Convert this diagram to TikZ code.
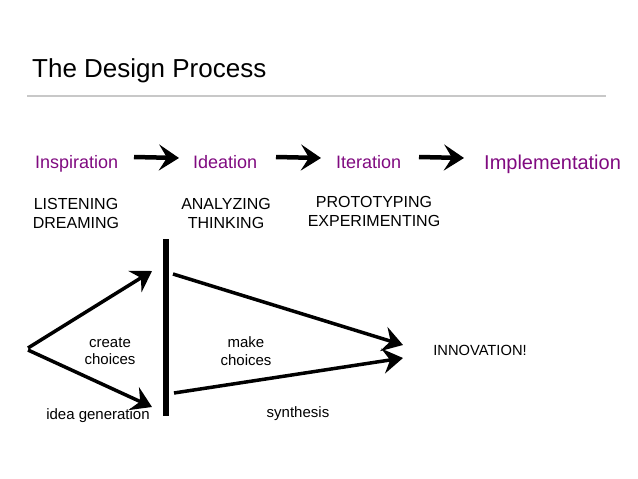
\documentclass[tikz,border=0pt]{standalone}
\usepackage{fontspec}
\setmainfont{Liberation Sans}
\usetikzlibrary{arrows.meta}
\definecolor{stagepurple}{RGB}{128,10,128}
\definecolor{rulegray}{RGB}{200,200,200}
\tikzset{
  stage/.style={text=stagepurple, font=\fontsize{18}{21}\selectfont, inner sep=0pt},
  bigstage/.style={text=stagepurple, font=\fontsize{20}{23}\selectfont, inner sep=0pt},
  caps/.style={font=\fontsize{16}{19}\selectfont, align=center, inner sep=0pt},
  lbl/.style={font=\fontsize{15}{17.5}\selectfont, align=center, inner sep=0pt},
  handarrow/.style={line width=4.5pt, -{Stealth[length=20pt,width=26pt,inset=8pt]}, black},
  diagarrow/.style={line width=3.5pt, -{Stealth[length=20pt,width=25pt,inset=7pt]}, black},
}
\begin{document}
\begin{tikzpicture}[x=1pt,y=-1pt]
\useasboundingbox (0,0) rectangle (638,479);
% title
\node[anchor=base west, font=\fontsize{26}{30}\selectfont, inner sep=0pt] (title) at (32,77) {The Design Process};
\coordinate (ruleL) at (27,96);
\coordinate (ruleR) at (606,96);
\draw[rulegray, line width=1.2pt] (ruleL) -- (ruleR);
% stages
\node[stage, anchor=base west] (insp) at (35,168) {Inspiration};
\node[stage, anchor=base west] (idea) at (193,168) {Ideation};
\node[stage, anchor=base west] (iter) at (336,168) {Iteration};
\node[bigstage, anchor=base west] (impl) at (484,169) {Implementation};
\coordinate (a1s) at (134,157); \coordinate (a1e) at (179,158);
\coordinate (a2s) at (276,157); \coordinate (a2e) at (321,158);
\coordinate (a3s) at (419,157); \coordinate (a3e) at (464,158);
\draw[handarrow] (a1s) -- (a1e);
\draw[handarrow] (a2s) -- (a2e);
\draw[handarrow] (a3s) -- (a3e);
% activities
\node[caps] (listen) at (76,213) {LISTENING\\DREAMING};
\node[caps] (analyze) at (226,213) {ANALYZING\\THINKING};
\node[caps] (proto) at (374,211) {PROTOTYPING\\EXPERIMENTING};
% diagram
\coordinate (barT) at (166,239);
\coordinate (barB) at (166,416);
\draw[line width=5.5pt] (barT) -- (barB);
\coordinate (src1) at (28,348);
\coordinate (src2) at (28,350);
\coordinate (upE) at (152,271);
\coordinate (dnE) at (152,407);
\draw[diagarrow] (src1) -- (upE);
\draw[diagarrow] (src2) -- (dnE);
\coordinate (m1) at (173,274);
\coordinate (m2) at (174,393);
\coordinate (inn1) at (403,345);
\coordinate (inn2) at (403,358);
\draw[diagarrow] (m1) -- (inn1);
\draw[diagarrow] (m2) -- (inn2);
\node[lbl] (create) at (110,351) {create\\choices};
\node[lbl] (make) at (246,351) {make\\choices};
\node[lbl] (ideagen) at (98,416) {idea generation};
\node[lbl] (synth) at (298,414) {synthesis};
\node[font=\fontsize{14.7}{17}\selectfont, inner sep=0pt] (innov) at (480,350) {INNOVATION!};
\end{tikzpicture}
\end{document}
